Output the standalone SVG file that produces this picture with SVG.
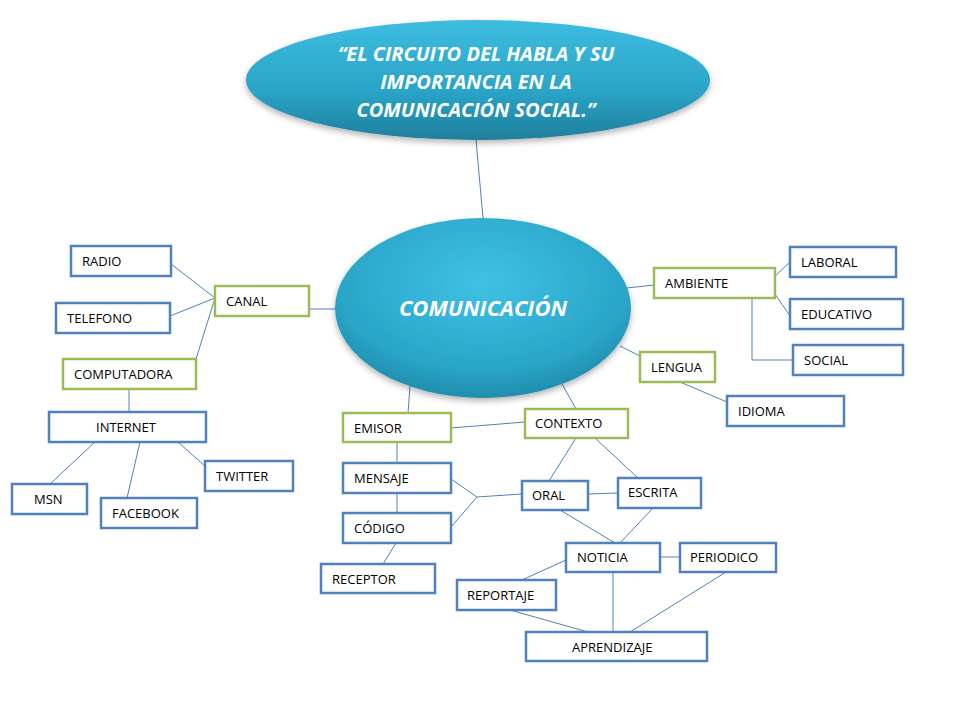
<svg xmlns="http://www.w3.org/2000/svg" width="960" height="720" viewBox="0 0 960 720">
<defs>
<linearGradient id="g1" x1="0" y1="0" x2="0" y2="1">
<stop offset="0" stop-color="#3dbde0"/><stop offset="0.6" stop-color="#2aa3c6"/><stop offset="1" stop-color="#1f7f9c"/>
</linearGradient>
<radialGradient id="g2" cx="0.5" cy="0.35" r="0.7">
<stop offset="0" stop-color="#3fc2e4"/><stop offset="0.7" stop-color="#2aa5c8"/><stop offset="1" stop-color="#1e85a3"/>
</radialGradient>
<filter id="sh" x="-20%" y="-20%" width="140%" height="150%"><feDropShadow dx="0" dy="3" stdDeviation="3" flood-color="#000" flood-opacity="0.3"/></filter>
</defs>
<style>
.b{fill:#fff;stroke:#4f81bd;stroke-width:2.5}
.gr{fill:#fff;stroke:#9bbb59;stroke-width:2.5}
.t{font-family:"Open Sans","Liberation Sans",sans-serif;font-size:13px;fill:#000}
.w{font-family:"Open Sans","Liberation Sans",sans-serif;font-weight:bold;font-style:italic;fill:#fff;text-anchor:middle}
#connectors line,#connectors polyline{stroke:#4f81bd;stroke-width:1;fill:none}
</style>
<rect width="960" height="720" fill="#fff"/>
<g id="connectors">
<line x1="476" y1="140" x2="483" y2="218"/>
<line x1="171" y1="264" x2="215" y2="298"/>
<line x1="170" y1="316" x2="215" y2="298"/>
<line x1="196" y1="359" x2="215" y2="298"/>
<line x1="309" y1="309" x2="336" y2="309"/>
<line x1="129" y1="389" x2="129" y2="412"/>
<line x1="95" y1="442" x2="50" y2="484"/>
<line x1="140" y1="442" x2="127" y2="498"/>
<line x1="178" y1="442" x2="205" y2="466"/>
<line x1="627" y1="288" x2="654" y2="285"/>
<line x1="775" y1="276" x2="790" y2="262"/>
<line x1="775" y1="294" x2="790" y2="316"/>
<polyline points="752,298 752,360 793,360"/>
<line x1="620" y1="346" x2="640" y2="356"/>
<line x1="680" y1="382" x2="727" y2="402"/>
<line x1="410" y1="386" x2="408" y2="413"/>
<line x1="562" y1="384" x2="576" y2="409"/>
<line x1="451" y1="428" x2="525" y2="422"/>
<line x1="397" y1="442" x2="397" y2="463"/>
<line x1="397" y1="493" x2="397" y2="513"/>
<line x1="451" y1="479" x2="477" y2="497"/>
<line x1="451" y1="527" x2="477" y2="497"/>
<line x1="477" y1="497" x2="522" y2="494"/>
<line x1="396" y1="543" x2="383" y2="564"/>
<line x1="576" y1="438" x2="549" y2="481"/>
<line x1="595" y1="438" x2="638" y2="478"/>
<line x1="588" y1="494" x2="618" y2="493"/>
<line x1="560" y1="510" x2="615" y2="543"/>
<line x1="653" y1="508" x2="620" y2="543"/>
<line x1="660" y1="557" x2="680" y2="557"/>
<line x1="566" y1="560" x2="522" y2="580"/>
<line x1="613" y1="572" x2="613" y2="632"/>
<line x1="510" y1="610" x2="588" y2="632"/>
<line x1="726" y1="572" x2="630" y2="632"/>
</g>
<g id="title"><ellipse cx="478" cy="80" rx="232" ry="60" fill="url(#g1)" filter="url(#sh)"/>
<text class="w" font-size="20"><tspan x="476" y="61">“EL CIRCUITO DEL HABLA Y SU</tspan><tspan x="476" y="89">IMPORTANCIA EN LA</tspan><tspan x="476" y="117">COMUNICACIÓN SOCIAL.”</tspan></text></g>
<g id="comunicacion"><ellipse cx="483" cy="308" rx="148" ry="90" fill="url(#g2)" filter="url(#sh)"/>
<text class="w" font-size="22" x="483" y="316">COMUNICACIÓN</text></g>
<g id="radio"><rect class="b" x="71" y="246" width="100" height="30"/><text class="t" x="82" y="266">RADIO</text></g>
<g id="telefono"><rect class="b" x="56" y="303" width="114" height="30"/><text class="t" x="67" y="323">TELEFONO</text></g>
<g id="canal"><rect class="gr" x="215" y="286" width="94" height="30"/><text class="t" x="226" y="306">CANAL</text></g>
<g id="computadora"><rect class="gr" x="63" y="359" width="133" height="30"/><text class="t" x="74" y="379">COMPUTADORA</text></g>
<g id="internet"><rect class="b" x="49" y="412" width="157" height="30"/><text class="t" x="96" y="432">INTERNET</text></g>
<g id="msn"><rect class="b" x="12" y="484" width="75" height="30"/><text class="t" x="34" y="504">MSN</text></g>
<g id="facebook"><rect class="b" x="101" y="498" width="96" height="30"/><text class="t" x="112" y="518">FACEBOOK</text></g>
<g id="twitter"><rect class="b" x="205" y="461" width="88" height="30"/><text class="t" x="216" y="481">TWITTER</text></g>
<g id="ambiente"><rect class="gr" x="654" y="268" width="121" height="30"/><text class="t" x="665" y="288">AMBIENTE</text></g>
<g id="laboral"><rect class="b" x="790" y="247" width="106" height="30"/><text class="t" x="801" y="267">LABORAL</text></g>
<g id="educativo"><rect class="b" x="790" y="299" width="113" height="30"/><text class="t" x="801" y="319">EDUCATIVO</text></g>
<g id="social"><rect class="b" x="793" y="345" width="110" height="30"/><text class="t" x="804" y="365">SOCIAL</text></g>
<g id="lengua"><rect class="gr" x="640" y="352" width="75" height="30"/><text class="t" x="651" y="372">LENGUA</text></g>
<g id="idioma"><rect class="b" x="727" y="396" width="117" height="30"/><text class="t" x="738" y="416">IDIOMA</text></g>
<g id="emisor"><rect class="gr" x="343" y="413" width="108" height="29"/><text class="t" x="354" y="433">EMISOR</text></g>
<g id="contexto"><rect class="gr" x="525" y="409" width="103" height="29"/><text class="t" x="535" y="428">CONTEXTO</text></g>
<g id="mensaje"><rect class="b" x="343" y="463" width="108" height="30"/><text class="t" x="354" y="483">MENSAJE</text></g>
<g id="codigo"><rect class="b" x="343" y="513" width="108" height="30"/><text class="t" x="354" y="533">CÓDIGO</text></g>
<g id="receptor"><rect class="b" x="321" y="564" width="114" height="29"/><text class="t" x="332" y="584">RECEPTOR</text></g>
<g id="oral"><rect class="b" x="522" y="481" width="66" height="29"/><text class="t" x="532" y="500">ORAL</text></g>
<g id="escrita"><rect class="b" x="618" y="478" width="83" height="30"/><text class="t" x="628" y="497">ESCRITA</text></g>
<g id="noticia"><rect class="b" x="566" y="543" width="94" height="29"/><text class="t" x="577" y="562">NOTICIA</text></g>
<g id="periodico"><rect class="b" x="680" y="543" width="96" height="29"/><text class="t" x="690" y="562">PERIODICO</text></g>
<g id="reportaje"><rect class="b" x="457" y="580" width="99" height="30"/><text class="t" x="467" y="600">REPORTAJE</text></g>
<g id="aprendizaje"><rect class="b" x="526" y="632" width="181" height="29"/><text class="t" x="572" y="652">APRENDIZAJE</text></g>
</svg>
